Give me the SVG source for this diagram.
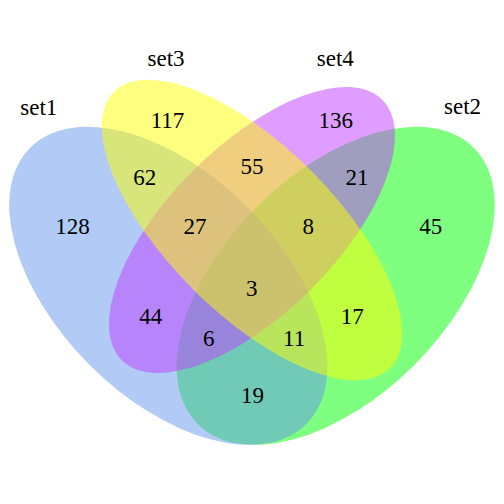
<svg xmlns="http://www.w3.org/2000/svg" width="504" height="504" viewBox="0 0 504 504">
<style>
.t{font-family:Liberation Serif,Times New Roman,Times,DejaVu Serif,serif;font-size:23px;fill:#000;text-anchor:middle}
ellipse{stroke:none;fill-opacity:0.5}
</style>
<rect width="504" height="504" fill="#fff"/>
<g id="set2">
<ellipse cx="335.7" cy="285.8" rx="195.3" ry="111.6" transform="rotate(-45 335.7 285.8)" fill="#00ff00"/>
<text class="t" x="462.5" y="114.3" font-family="Liberation Serif">set2</text>
</g>
<g id="set1">
<ellipse cx="168.3" cy="285.8" rx="195.3" ry="111.6" transform="rotate(45 168.3 285.8)" fill="#6495ed"/>
<text class="t" x="38.8" y="115" font-family="Liberation Serif">set1</text>
</g>
<g id="set4">
<ellipse cx="252" cy="230" rx="184.1" ry="83.7" transform="rotate(-45 252 230)" fill="#bf3eff"/>
<text class="t" x="335.3" y="66" font-family="Liberation Serif">set4</text>
</g>
<g id="set3">
<ellipse cx="252" cy="230" rx="195.3" ry="83.7" transform="rotate(45 252 230)" fill="#ffff00"/>
<text class="t" x="166" y="66" font-family="Liberation Serif">set3</text>
</g>
<g id="counts">
<text class="t" x="72.6" y="233.5">128</text>
<text class="t" x="167.5" y="128.3">117</text>
<text class="t" x="335.8" y="128.3">136</text>
<text class="t" x="430.7" y="233.5">45</text>
<text class="t" x="144.7" y="185">62</text>
<text class="t" x="252" y="173.5">55</text>
<text class="t" x="357" y="184.5">21</text>
<text class="t" x="195" y="233.5">27</text>
<text class="t" x="308.3" y="233.5">8</text>
<text class="t" x="150.8" y="324">44</text>
<text class="t" x="251.7" y="295.7">3</text>
<text class="t" x="352.2" y="324">17</text>
<text class="t" x="208.7" y="346">6</text>
<text class="t" x="294.2" y="346">11</text>
<text class="t" x="252.5" y="402.7">19</text>
</g>
</svg>
